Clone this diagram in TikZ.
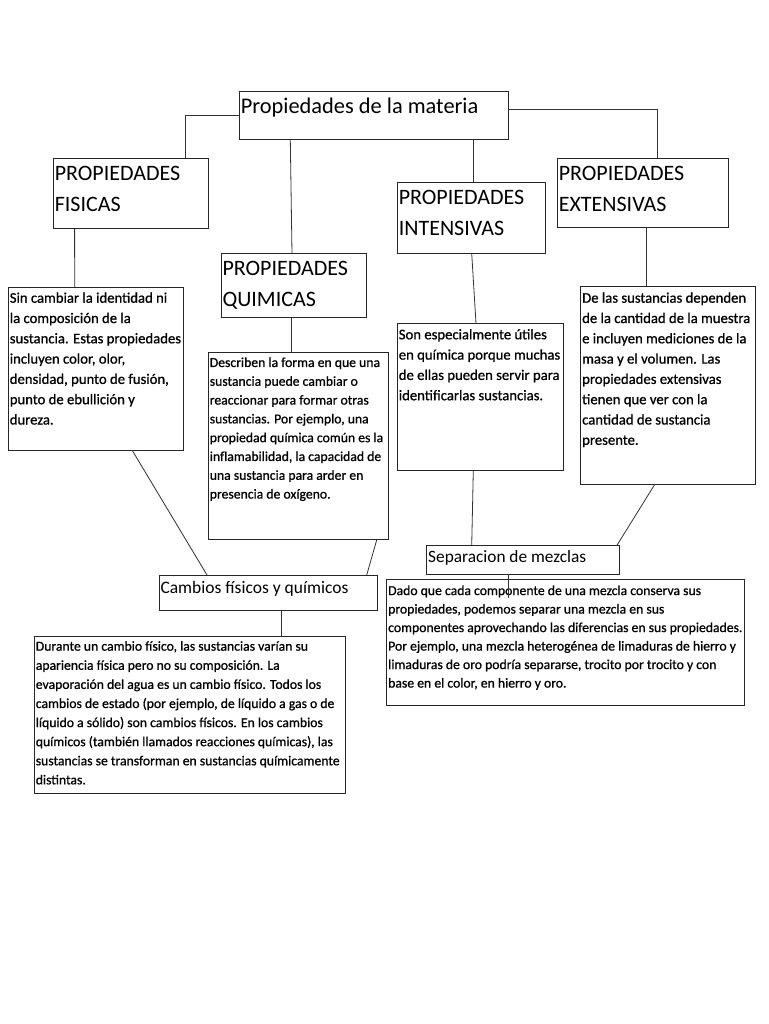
\documentclass[tikz,border=0pt]{standalone}
\usepackage{fontspec}
\setmainfont{Carlito}
\newfontfamily\bodyfont{Carlito}[FakeBold=0.8]
\usepackage{array}
% #1 width, #2 height, #3 font size, #4 baselineskip, #5 top offset, #6 lines
\newcommand\bt[6]{\parbox[b][#2][t]{#1}{\vspace*{#5}\fontsize{#3}{#4}\selectfont\hspace*{1.5pt}\begin{tabular}[t]{@{}l@{}}#6\end{tabular}}}
\newcommand\bb[6]{\parbox[b][#2][t]{#1}{\vspace*{#5}\bodyfont\fontsize{#3}{#4}\selectfont\hspace*{1.5pt}\begin{tabular}[t]{@{}l@{}}#6\end{tabular}}}
\begin{document}
\begin{tikzpicture}[x=1pt,y=-1pt,
  bx/.style={draw=black!85, line width=1pt, anchor=north west, inner sep=0pt, outer sep=0pt},
  conn/.style={draw=black!80, line width=0.8pt}]
\fill[white] (0,0) rectangle (768,1024);
\useasboundingbox (0,0) rectangle (768,1024);

% top level
\node[bx] (t) at (239.3,91.7) {\bt{269pt}{48.3pt}{22.4pt}{31pt}{0pt}{Propiedades de la materia}};

% second level
\node[bx] (fis) at (53.3,158.3) {\bt{155pt}{70.7pt}{22pt}{31pt}{0.7pt}{PROPIEDADES\\FISICAS}};
\node[bx] (qui) at (221,253.3) {\bt{145.7pt}{64.5pt}{22pt}{31pt}{0pt}{PROPIEDADES\\QUIMICAS}};
\node[bx] (int) at (397.3,182.3) {\bt{148.4pt}{71pt}{22pt}{31pt}{0.5pt}{PROPIEDADES\\INTENSIVAS}};
\node[bx] (ext) at (557.3,158.3) {\bt{171pt}{69.4pt}{22pt}{31pt}{1pt}{PROPIEDADES\\EXTENSIVAS}};

% descriptions
\node[bx] (sin) at (8.3,287.3) {\bb{175pt}{162.7pt}{14.7pt}{20.3pt}{1.2pt}{%
Sin cambiar la identidad ni\\
la composición de la\\
sustancia. Estas propiedades\\
incluyen color, olor,\\
densidad, punto de fusión,\\
punto de ebullición y\\
dureza.}};

\node[bx] (des) at (208.3,352.7) {\bb{180pt}{186.3pt}{13.7pt}{18.8pt}{1.1pt}{%
Describen la forma en que una\\
sustancia puede cambiar o\\
reaccionar para formar otras\\
sustancias. Por ejemplo, una\\
propiedad química común es la\\
inflamabilidad, la capacidad de\\
una sustancia para arder en\\
presencia de oxígeno.}};

\node[bx] (son) at (397.3,323.3) {\bb{166pt}{147.4pt}{14.7pt}{20.3pt}{1.8pt}{%
Son especialmente útiles\\
en química porque muchas\\
de ellas pueden servir para\\
identificarlas sustancias.}};

\node[bx] (del) at (580.7,286) {\bb{174.3pt}{198pt}{14.7pt}{20.3pt}{2.5pt}{%
De las sustancias dependen\\
de la cantidad de la muestra\\
e incluyen mediciones de la\\
masa y el volumen. Las\\
propiedades extensivas\\
tienen que ver con la\\
cantidad de sustancia\\
presente.}};

% lower level
\node[bx] (cam) at (159,575) {\bt{218.3pt}{35.7pt}{17.5pt}{26pt}{0.3pt}{Cambios físicos y químicos}};

\node[bx] (dur) at (34.3,636) {\bb{311.4pt}{157.3pt}{13.7pt}{19.1pt}{1.3pt}{%
Durante un cambio físico, las sustancias varían su\\
apariencia física pero no su composición. La\\
evaporación del agua es un cambio físico. Todos los\\
cambios de estado (por ejemplo, de líquido a gas o de\\
líquido a sólido) son cambios físicos. En los cambios\\
químicos (también llamados reacciones químicas), las\\
sustancias se transforman en sustancias químicamente\\
distintas.}};

\node[bx] (sep) at (426.7,545.7) {\bt{192.6pt}{28.6pt}{17.3pt}{23.7pt}{0pt}{Separacion de mezclas}};

\node[bx] (dado) at (386.7,579.3) {\bb{357.3pt}{125.7pt}{13.7pt}{18.5pt}{2.8pt}{%
Dado que cada componente de una mezcla conserva sus\\
propiedades, podemos separar una mezcla en sus\\
componentes aprovechando las diferencias en sus propiedades.\\
Por ejemplo, una mezcla heterogénea de limaduras de hierro y\\
limaduras de oro podría separarse, trocito por trocito y con\\
base en el color, en hierro y oro.}};

\coordinate (sepend) at (508.3,598.3);

% connectors
\draw[conn] (t.west) -| ([xshift=131.7pt]fis.north west);
\draw[conn] ([xshift=51pt]t.south west) -- ([xshift=71pt]qui.north west);
\draw[conn] ([xshift=234pt]t.south west) -- ([xshift=76pt]int.north west);
\draw[conn] ([yshift=6pt]t.east) -| ([xshift=100.5pt]ext.north west);
\draw[conn] ([xshift=21.3pt]fis.south west) -- ([xshift=66.4pt]sin.north west);
\draw[conn] ([xshift=70.7pt]qui.south west) -- ([xshift=83.4pt]des.north west);
\draw[conn] ([xshift=74.4pt]int.south west) -- ([xshift=78.7pt]son.north west);
\draw[conn] ([xshift=88.7pt]ext.south west) -- ([xshift=65.3pt]del.north west);
\draw[conn] ([xshift=123.7pt]sin.south west) -- ([xshift=48pt]cam.north west);
\draw[conn] ([xshift=168.7pt]des.south west) -- ([xshift=207.7pt]cam.north west);
\draw[conn] ([xshift=122.7pt]cam.south west) -- ([xshift=247.4pt]dur.north west);
\draw[conn] ([xshift=76pt]son.south west) -- ([xshift=45pt]sep.north west);
\draw[conn] ([xshift=74.3pt]del.south west) -- ([xshift=-2.6pt]sep.north east);
\draw[conn] ([xshift=81.6pt]sep.south west) -- (sepend);
\end{tikzpicture}
\end{document}
